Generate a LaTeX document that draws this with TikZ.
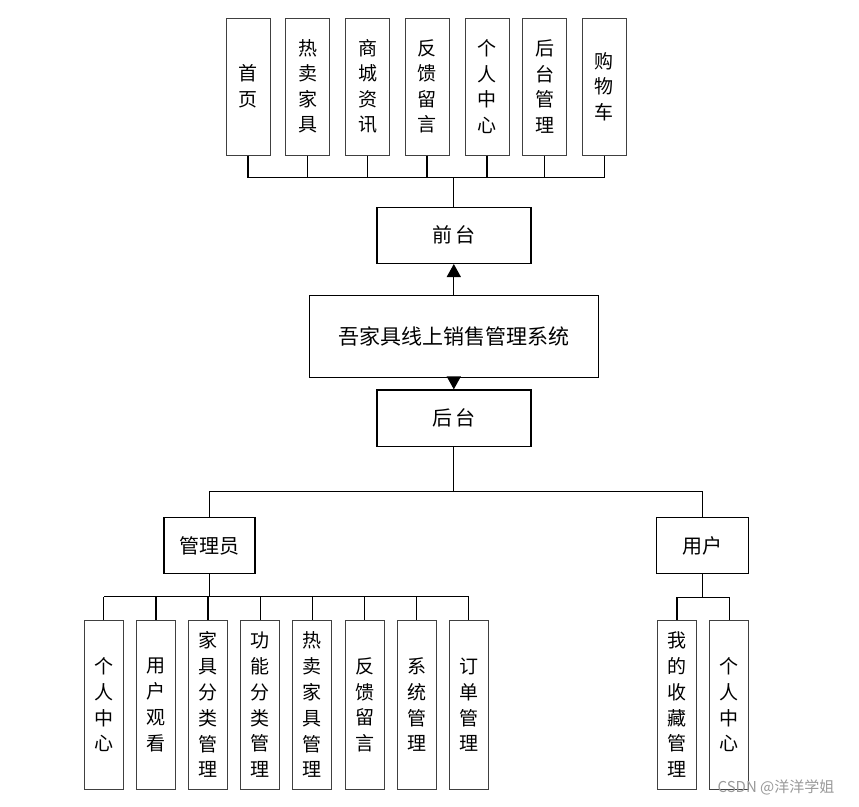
\documentclass[tikz,border=0pt]{standalone}
\usepackage{fontspec}
\setmainfont{Noto Sans CJK SC}
\usetikzlibrary{arrows.meta}

\tikzset{
    box/.style={draw, line width=1.4pt, inner sep=0pt, align=center, font=\fontsize{20}{25}\selectfont},
    topbox/.style={draw=black!75, line width=1pt, inner sep=0pt, align=center, minimum width=44pt, minimum height=137pt, font=\fontsize{19}{25.5}\selectfont},
    lowbox/.style={draw=black!75, line width=1pt, inner sep=0pt, align=center, minimum width=39pt, minimum height=169pt, font=\fontsize{19}{25.8}\selectfont},
    link/.style={line width=1.3pt},
}

\begin{document}
\begin{tikzpicture}[x=1pt, y=-1pt]
    \useasboundingbox (0, 0) rectangle (859, 806);

    % front end
    \node (t1) [topbox] at (248, 86.5) {首\\页};
    \node (t2) [topbox] at (307.5, 86.5) {热\\卖\\家\\具};
    \node (t3) [topbox] at (367.5, 86.5) {商\\城\\资\\讯};
    \node (t4) [topbox] at (427, 86.5) {反\\馈\\留\\言};
    \node (t5) [topbox] at (487, 86.5) {个\\人\\中\\心};
    \node (t6) [topbox] at (544.5, 86.5) {后\\台\\管\\理};
    \node (t7) [topbox] at (604.3, 86.5) {购\\物\\车};
    \node (qiantai) [box, minimum width=154pt, minimum height=56pt] at (453.8, 235.3) {前\,台};

    % system
    \node (main) [box, line width=1pt, minimum width=289pt, minimum height=82pt, font=\fontsize{21}{25}\selectfont] at (453.8, 336) {吾家具线上销售管理系统};
    \node (houtai) [box, minimum width=154pt, minimum height=56.5pt] at (453.8, 418.3) {后\,台};

    % back end
    \node (admin) [box, minimum width=91pt, minimum height=56.5pt] at (209.3, 545.5) {管理员};
    \node (user) [box, minimum width=91.5pt, minimum height=56.5pt] at (702.5, 545.5) {用户};

    \node (a1) [lowbox] at (103.8, 704.8) {个\\人\\中\\心};
    \node (a2) [lowbox] at (156, 704.8) {用\\户\\观\\看};
    \node (a3) [lowbox] at (208, 704.8) {家\\具\\分\\类\\管\\理};
    \node (a4) [lowbox] at (260.2, 704.8) {功\\能\\分\\类\\管\\理};
    \node (a5) [lowbox] at (312.3, 704.8) {热\\卖\\家\\具\\管\\理};
    \node (a6) [lowbox] at (364.5, 704.8) {反\\馈\\留\\言};
    \node (a7) [lowbox] at (416.7, 704.8) {系\\统\\管\\理};
    \node (a8) [lowbox] at (468.7, 704.8) {订\\单\\管\\理};

    \node (u1) [lowbox] at (677, 704.8) {我\\的\\收\\藏\\管\\理};
    \node (u2) [lowbox] at (729.2, 704.8) {个\\人\\中\\心};

    \node (mark) [font=\fontsize{15}{15}\selectfont, text=black!40] at (776, 787) {CSDN @洋洋学姐};

    \coordinate (topbus) at (0, 177.7);
    \coordinate (midbus) at (0, 491.5);
    \coordinate (adminbus) at (0, 596.5);
    \coordinate (userbus) at (0, 597.5);

    % connectors
    \draw[link, -{Triangle[width=14pt, length=13pt]}] (main.north) -- (qiantai.south);
    \draw[link, -{Triangle[width=14pt, length=13pt]}] (main.south) -- (houtai.north);

    \draw[link] (qiantai.north) -- (qiantai.north |- topbus);
    \draw[link] (t1.south |- topbus) -- (t7.south |- topbus);
    \foreach \n in {1,...,7}
        \draw[link] (t\n.south) -- (t\n.south |- topbus);

    \draw[link] (houtai.south) -- (houtai.south |- midbus);
    \draw[link] (admin.north) -- (admin.north |- midbus) -- (user.north |- midbus) -- (user.north);

    \draw[link] (admin.south) -- (admin.south |- adminbus);
    \draw[link] (a1.north |- adminbus) -- (a8.north |- adminbus);
    \foreach \n in {1,...,8}
        \draw[link] (a\n.north) -- (a\n.north |- adminbus);

    \draw[link] (user.south) -- (user.south |- userbus);
    \draw[link] (u1.north) -- (u1.north |- userbus) -- (u2.north |- userbus) -- (u2.north);
\end{tikzpicture}
\end{document}
